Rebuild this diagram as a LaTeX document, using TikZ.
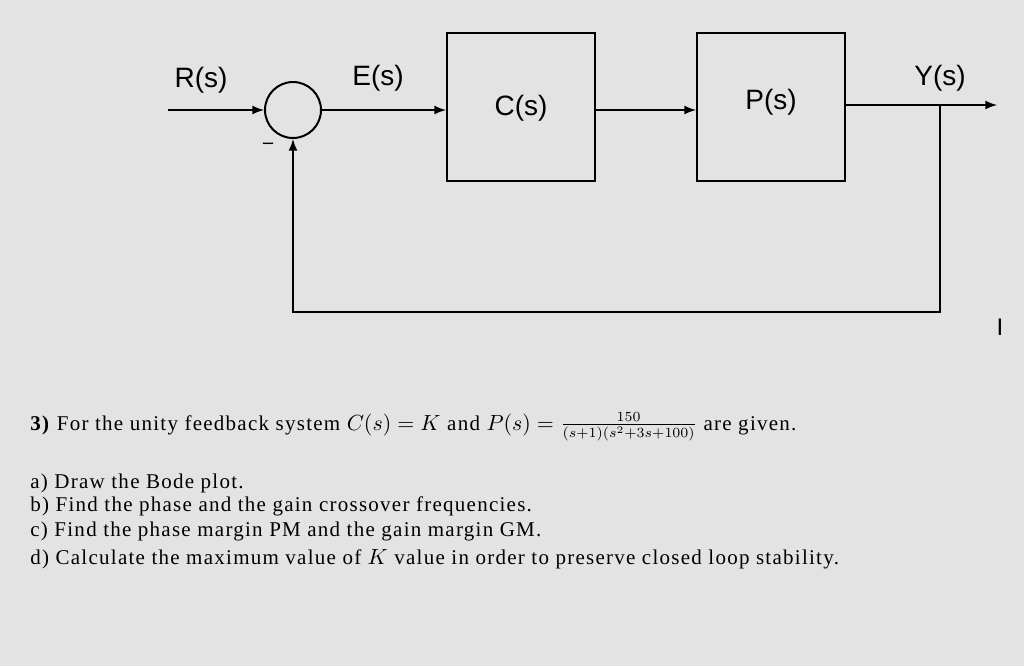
\documentclass[tikz,border=0pt]{standalone}
\usepackage{fontspec}
\setmainfont{Liberation Serif}[LetterSpace=6]
\newfontfamily\lab{Liberation Sans}
\begin{document}
\begin{tikzpicture}[x=0.5pt,y=-0.5pt,
  blk/.style={draw,line width=1pt,minimum width=74pt,minimum height=74pt},
  sig/.style={line width=1pt},
  arr/.style={sig,-latex},
  lbl/.style={font=\lab\fontsize{14}{16}\selectfont},
  txt/.style={anchor=west,font=\fontsize{10.5}{12}\selectfont,inner sep=0}]
\fill[gray!22] (0,0) rectangle (1024,666);
\useasboundingbox (0,0) rectangle (1024,666);
\node[draw,circle,line width=1pt,minimum size=28pt,inner sep=0] (sum) at (293,110) {};
\node[blk] (C) at (521,107) {};
\node[lbl] at (521,108) {C(s)};
\node[blk] (P) at (771,107) {};
\node[lbl] at (771,102) {P(s)};
\coordinate (in) at (168,110);
\coordinate (out) at (997,105);
\coordinate (tap) at (940,105);
\coordinate (br) at (940,312);
\coordinate (bl) at (293,312);
\draw[arr] (in) -- (sum.west);
\draw[arr] (sum.east) -- (C.west |- sum.east);
\draw[arr] (C.east |- sum.east) -- (P.west |- sum.east);
\draw[arr] (P.east |- out) -- (out);
\draw[arr] (tap) -- (br) -- (bl) -- (sum.south);
\node[lbl] at (201,80) {R(s)};
\node[lbl] at (378,78) {E(s)};
\node[lbl] at (940,78) {Y(s)};
\node[font=\bfseries] at (268,146) {--};
\node[font=\lab\fontsize{12}{14}\selectfont] at (1000,327) {I};
\node[txt] at (30,427) {\textbf{3)} For the unity feedback system $C(s)=K$ and $P(s)=\frac{150}{(s+1)(s^2+3s+100)}$ are given.};
\node[txt] at (30,483) {a) Draw the Bode plot.};
\node[txt] at (30,506) {b) Find the phase and the gain crossover frequencies.};
\node[txt] at (30,531) {c) Find the phase margin PM and the gain margin GM.};
\node[txt] at (30,559) {d) Calculate the maximum value of $K$ value in order to preserve closed loop stability.};
\end{tikzpicture}
\end{document}
